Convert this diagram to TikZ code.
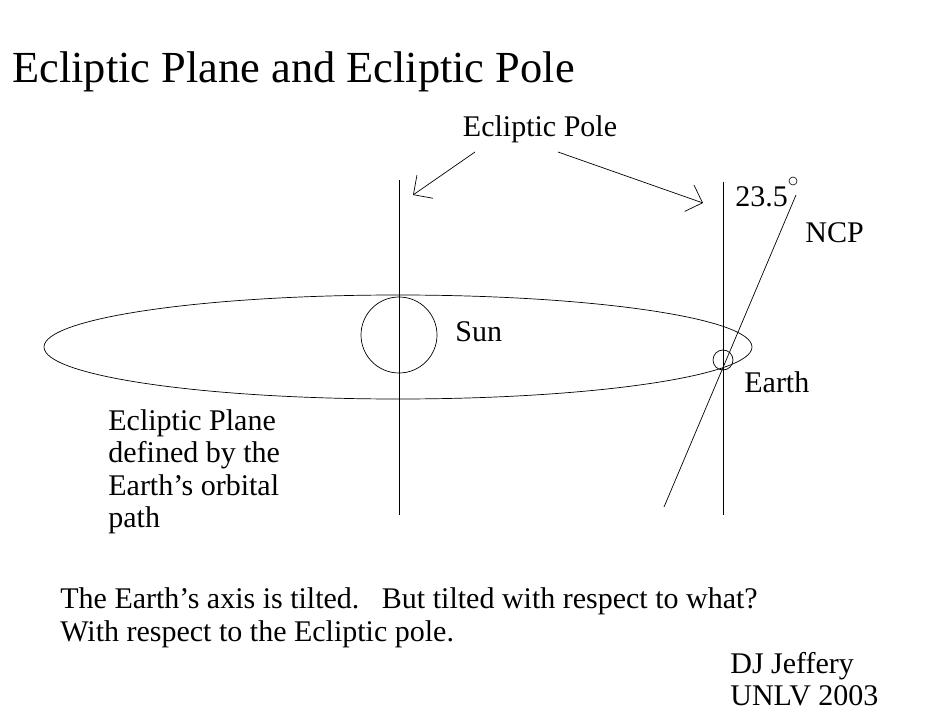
\documentclass[tikz,border=0pt]{standalone}
\usepackage{fontspec}
\setmainfont{Liberation Serif}
\usetikzlibrary{arrows.meta}
\begin{document}
\begin{tikzpicture}[x=1pt,y=-1pt,line width=0.7pt,
  lbl/.style={anchor=base west,inner sep=0pt,font=\fontsize{30}{32.5}\selectfont},
  ttl/.style={anchor=base west,inner sep=0pt,font=\fontsize{44.4}{48}\selectfont},
  barb/.style={-{Straight Barb[length=14pt,width=28pt,line width=0.7pt]}}]
\useasboundingbox (0,0) rectangle (943,719);
\node[ttl] (title) at (12,83) {Ecliptic Plane and Ecliptic Pole};
\node[lbl,anchor=base] (pole) at (540,137) {Ecliptic Pole};
% ellipse (orbit)
\draw (398,347) ellipse [x radius=354, y radius=52];
% sun
\node[circle,draw,minimum size=76pt,inner sep=0pt] (sun) at (399,335) {};
\coordinate (s1) at (399,180);
\coordinate (s2) at (399,515);
\draw (s1) -- (s2);
% earth
\node[circle,draw,minimum size=20pt,inner sep=0pt] (earth) at (723,360) {};
\coordinate (e1) at (723,182);
\coordinate (e2) at (723,515);
\draw (e1) -- (e2);
\coordinate (n1) at (664,507);
\coordinate (n2) at (796,195);
\draw (n1) -- (n2);
% arrows
\coordinate (a1s) at (475,152);
\coordinate (a1e) at (413,195);
\coordinate (a2s) at (558,152);
\coordinate (a2e) at (703,203);
\draw[barb] (a1s) -- (a1e);
\draw[barb] (a2s) -- (a2e);
% labels
\node[lbl] (ang) at (735,207) {23.5};
\node[circle,draw,minimum size=8pt,inner sep=0pt,line width=0.6pt] (deg) at (793,181) {};
\node[lbl] (ncp) at (805,243) {NCP};
\node[lbl] (sunl) at (455,342) {Sun};
\node[lbl] (earthl) at (744,392) {Earth};
\node[lbl,align=left,anchor=north west] (plane) at (108,409) {Ecliptic Plane\\defined by the\\Earth’s orbital\\path};
\node[lbl] (b1) at (60,608) {The Earth’s axis is tilted.\ \ \ But tilted with respect to what?};
\node[lbl] (b2) at (60,641) {With respect to the Ecliptic pole.};
\node[lbl] (dj) at (730,673) {DJ Jeffery};
\node[lbl] (unlv) at (730,705) {UNLV 2003};
\end{tikzpicture}
\end{document}
